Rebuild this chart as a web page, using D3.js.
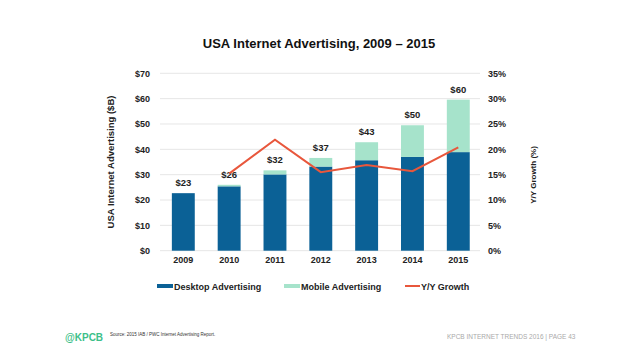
<!DOCTYPE html>
<html><head><meta charset="utf-8">
<script src="https://cdn.jsdelivr.net/npm/d3@7"></script>
<style>body{margin:0;background:#fff}svg{display:block;font-family:Arial,"Liberation Sans",sans-serif}</style>
</head><body><svg id="c" width="638" height="359"></svg>
<script>
const years = ["2009","2010","2011","2012","2013","2014","2015"];
const desktop = [22.7, 25.4, 30.1, 33.2, 35.7, 37.0, 38.9];
const mobile = [0.0, 0.6, 1.6, 3.4, 7.1, 12.5, 20.7];
const totalLabels = ["$23","$26","$32","$37","$43","$50","$60"];
const growth = [null, 0.152, 0.219, 0.155, 0.169, 0.157, 0.204];
const leftTicks = [0,10,20,30,40,50,60,70];
const rightTicks = [0,0.05,0.10,0.15,0.20,0.25,0.30,0.35];

const svg = d3.select("#c");
const C_DESK = "#0b6196", C_MOB = "#a6e3cb", C_LINE = "#e8573c";
const x = d3.scaleBand().domain(years).range([160.4, 481.2]).paddingInner(0.5).paddingOuter(0.25);
const y = d3.scaleLinear().domain([0,70]).range([250.7, 73.3]);
const y2 = d3.scaleLinear().domain([0,0.35]).range([250.7, 73.3]);

svg.append("text").attr("x",319).attr("y",48).attr("text-anchor","middle")
  .attr("font-size",13).attr("font-weight","bold").attr("fill","#111")
  .text("USA Internet Advertising, 2009 – 2015");

// gridlines
svg.append("g").selectAll("line").data(leftTicks).join("line")
  .attr("x1",160).attr("x2",480).attr("y1",d=>y(d)).attr("y2",d=>y(d))
  .attr("stroke","#e6e6e6").attr("stroke-width",1);

// left axis
const la = svg.append("g").attr("transform","translate(160,0)")
  .call(d3.axisLeft(y).tickValues(leftTicks).tickFormat(d=>"$"+d).tickSize(0).tickPadding(10));
la.select(".domain").remove();
la.selectAll("text").attr("font-size",9).attr("font-weight","bold").attr("fill","#222").attr("font-family","Arial");

// right axis
const ra = svg.append("g").attr("transform","translate(480,0)")
  .call(d3.axisRight(y2).tickValues(rightTicks).tickFormat(d=>Math.round(d*100)+"%").tickSize(0).tickPadding(8));
ra.select(".domain").remove();
ra.selectAll("text").attr("font-size",9).attr("font-weight","bold").attr("fill","#222").attr("font-family","Arial");

// bottom axis
const ba = svg.append("g").attr("transform","translate(0,250.7)")
  .call(d3.axisBottom(x).tickSize(0).tickPadding(6));
ba.select(".domain").remove();
ba.selectAll("text").attr("font-size",9).attr("font-weight","bold").attr("fill","#222").attr("font-family","Arial");

// axis titles
svg.append("text").attr("transform","translate(114,162) rotate(-90)").attr("text-anchor","middle")
  .attr("font-size",9.5).attr("font-weight","bold").attr("fill","#222").text("USA Internet Advertising ($B)");
svg.append("text").attr("transform","translate(536,175) rotate(-90)").attr("text-anchor","middle")
  .attr("font-size",8).attr("font-weight","bold").attr("fill","#222").text("Y/Y Growth (%)");

// bars
const g = svg.append("g");
g.selectAll("rect.d").data(years).join("rect").attr("class","d")
  .attr("x",d=>x(d)).attr("width",x.bandwidth())
  .attr("y",(d,i)=>y(desktop[i])).attr("height",(d,i)=>y(0)-y(desktop[i])).attr("fill",C_DESK);
g.selectAll("rect.m").data(years).join("rect").attr("class","m")
  .attr("x",d=>x(d)).attr("width",x.bandwidth())
  .attr("y",(d,i)=>y(desktop[i]+mobile[i])).attr("height",(d,i)=>y(desktop[i])-y(desktop[i]+mobile[i])).attr("fill",C_MOB);
g.selectAll("text.t").data(years).join("text").attr("class","t")
  .attr("x",d=>x(d)+x.bandwidth()/2).attr("y",(d,i)=>y(desktop[i]+mobile[i])-7)
  .attr("text-anchor","middle").attr("font-size",9.5).attr("font-weight","bold").attr("fill","#222")
  .text((d,i)=>totalLabels[i]);

// growth line
const pts = years.map((d,i)=>({d,v:growth[i]})).filter(p=>p.v!==null);
svg.append("path").datum(pts)
  .attr("d", d3.line().x(p=>x(p.d)+x.bandwidth()/2).y(p=>y2(p.v)))
  .attr("fill","none").attr("stroke",C_LINE).attr("stroke-width",2);

// legend
const lg = svg.append("g").attr("font-size",9).attr("font-weight","bold").attr("fill","#222");
lg.append("rect").attr("x",157).attr("y",284).attr("width",16).attr("height",4).attr("fill",C_DESK);
lg.append("text").attr("x",174).attr("y",289.5).text("Desktop Advertising");
lg.append("rect").attr("x",284).attr("y",284).attr("width",16).attr("height",4).attr("fill",C_MOB);
lg.append("text").attr("x",301).attr("y",289.5).text("Mobile Advertising");
lg.append("rect").attr("x",405).attr("y",285).attr("width",15).attr("height",2).attr("fill",C_LINE);
lg.append("text").attr("x",421).attr("y",289.5).text("Y/Y Growth");

// footer
svg.append("text").attr("x",65).attr("y",341).attr("font-size",10).attr("font-weight","bold")
  .attr("fill","#3dbf8a").text("@KPCB");
svg.append("text").attr("x",110).attr("y",336).attr("font-size",4.5).attr("fill","#333")
  .text("Source: 2015 IAB / PWC Internet Advertising Report.");
svg.append("text").attr("x",447).attr("y",339).attr("font-size",6.5).attr("fill","#aaa")
  .text("KPCB INTERNET TRENDS 2016  |  PAGE 43");
</script></body></html>
